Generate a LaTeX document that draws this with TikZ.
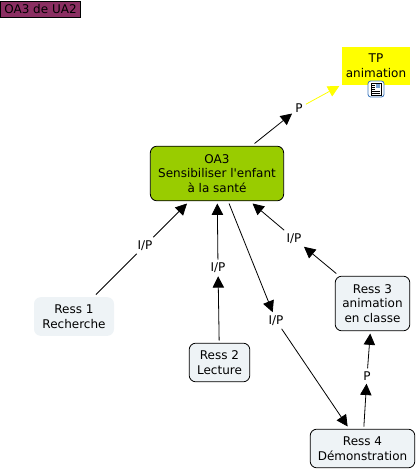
\documentclass[tikz,border=0pt]{standalone}
\usepackage{fontspec}
\setmainfont[Ligatures=TeXOff]{DejaVu Sans}
\usepackage{xcolor}
\definecolor{oaplum}{RGB}{139,47,98}
\definecolor{oagreen}{RGB}{153,204,0}
\definecolor{resspale}{RGB}{238,243,246}
\definecolor{tpyellow}{RGB}{255,255,0}
\definecolor{iconblue}{RGB}{60,120,190}
\usetikzlibrary{arrows.meta}
\tikzset{
  maptext/.style={font=\fontsize{9}{11}\selectfont, align=center, inner sep=0pt, outer sep=2pt},
  ressbox/.style={maptext, rectangle, rounded corners=5pt, draw=black, fill=resspale, line width=0.6pt},
  linklabel/.style={font=\fontsize{9}{11}\selectfont, inner sep=1.5pt, outer sep=1pt},
  linkarrow/.style={-{Triangle[length=8.5pt,width=8.5pt]}, line width=0.6pt, black},
  linkplain/.style={line width=0.6pt, black},
}
\begin{document}
\begin{tikzpicture}[x=0.75pt,y=-0.75pt]
  \useasboundingbox (0,0) rectangle (418,470);
  % Title tag
  \node[maptext, rectangle, draw=black, fill=oaplum, line width=0.6pt, minimum width=60pt, minimum height=12.5pt, outer sep=0pt] (tag) at (40.5,9.5) {OA3 de UA2};
  % Main nodes
  \node[ressbox, fill=oagreen, minimum width=100pt, minimum height=41pt] (oa3) at (217,173.5) {OA3\\Sensibiliser l'enfant\\à la santé};
  \node[maptext, rectangle, fill=tpyellow, minimum width=51pt, minimum height=28pt] (tp) at (376,66) {TP\\animation};
  \node[ressbox, draw=none, minimum width=60pt, minimum height=29pt] (ress1) at (74,316.5) {Ress 1\\Recherche};
  \node[ressbox, minimum width=45.5pt, minimum height=29pt] (ress2) at (219.5,362.5) {Ress 2\\Lecture};
  \node[ressbox, minimum width=56pt, minimum height=41pt] (ress3) at (372.5,303.5) {Ress 3\\animation\\en classe};
  \node[ressbox, minimum width=78.5pt, minimum height=29pt] (ress4) at (362.5,448.5) {Ress 4\\Démonstration};
  % Document icon under TP
  \node[rectangle, rounded corners=2pt, draw=iconblue, fill=white, line width=0.6pt, minimum width=12pt, minimum height=12pt, inner sep=0pt] (icon) at (376,89) {};
  \draw[black, fill=white, line width=0.4pt] (371,83) rectangle (381,95);
  \fill[iconblue!70] (376,84.5) rectangle (380,88.5);
  \foreach \yy in {85,87,89} {
    \draw[black, line width=0.4pt] (372,\yy) -- (375,\yy);
  }
  \foreach \yy in {91,93} {
    \draw[black, line width=0.4pt] (372,\yy) -- (380,\yy);
  }
  % Link labels
  \node[linklabel] (lblp) at (299,108) {P};
  \node[linklabel] (lbl1) at (145,245.5) {I/P};
  \node[linklabel] (lbl2) at (218,268) {I/P};
  \node[linklabel] (lbl3) at (294,238.5) {I/P};
  \node[linklabel] (lbl4) at (276,320.5) {I/P};
  \node[linklabel] (lbl5) at (367,376) {P};
  % Connectors
  \draw[linkarrow] (oa3) -- (lblp);
  \draw[linkarrow, tpyellow] (lblp) -- (tp);
  \draw[linkplain] (ress1) -- (lbl1);
  \draw[linkarrow] (lbl1) -- (oa3);
  \draw[linkarrow] (ress2) -- (lbl2);
  \draw[linkarrow] (lbl2) -- (oa3);
  \draw[linkarrow] (ress3) -- (lbl3);
  \draw[linkarrow] (lbl3) -- (oa3);
  \draw[linkarrow] (oa3) -- (lbl4);
  \draw[linkarrow] (lbl4) -- (ress4);
  \draw[linkarrow] (ress4) -- (lbl5);
  \draw[linkarrow] (lbl5) -- (ress3);
\end{tikzpicture}
\end{document}
